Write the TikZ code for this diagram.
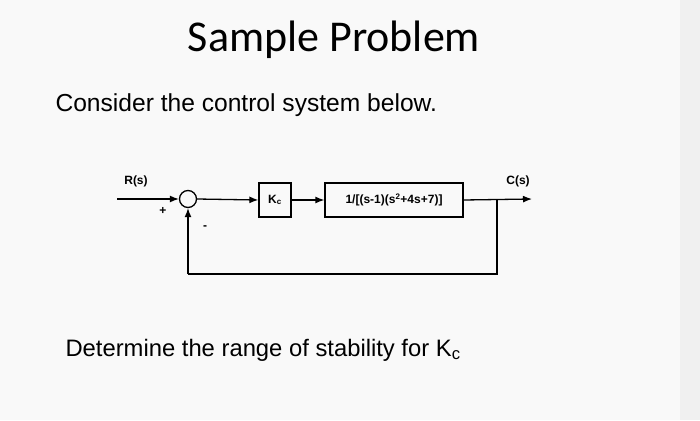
\documentclass[tikz,border=0pt]{standalone}
\usepackage{fontspec}
\setmainfont{Liberation Sans}
\newfontfamily\titlefont{Carlito}
\usetikzlibrary{arrows.meta}
\begin{document}
\begin{tikzpicture}[x=1pt,y=-1pt,
  blk/.style={draw,line width=1.3pt,minimum height=34pt,inner sep=2pt,font=\fontsize{12}{13}\selectfont\bfseries},
  sig/.style={line width=1.3pt,-{Latex[length=9pt,width=7pt]}},
  ln/.style={line width=1.3pt},
  lbl/.style={font=\fontsize{12}{13}\selectfont\bfseries}]
\fill[gray!12] (0,0) rectangle (700,420);
\fill[gray!5] (0,0) rectangle (680,420);
\node[font=\titlefont\fontsize{44}{46}\selectfont] (title) at (334,40) {Sample Problem};
\node[anchor=west,font=\fontsize{24.6}{26}\selectfont] (cons) at (52,105) {Consider the control system below.};
\node[anchor=west,font=\fontsize{23.8}{26}\selectfont] (det) at (62,350) {Determine the range of stability for K\textsubscript{c}};
\node[draw,circle,line width=1.3pt,minimum size=17pt,inner sep=0] (sum) at (188,199) {};
\node[blk,minimum width=32pt] (kc) at (275,200) {K\textsubscript{c}};
\node[blk,minimum width=138pt] (g) at (394,200) {1/[(s-1)(s\textsuperscript{2}+4s+7)]};
\coordinate (in) at (117,199);
\coordinate (out) at (532,199);
\coordinate (br) at (497,199);
\coordinate (bot) at (497,274);
\coordinate (botl) at (188,274);
\draw[sig] (in) -- (sum.west);
\draw[sig] (sum.east) -- (kc.west);
\draw[sig] (kc.east) -- (g.west);
\draw[sig] (g.east) -- (out);
\draw[ln] (br) -- (bot) -- (botl);
\draw[sig] (botl) -- (sum.south);
\node[lbl] (rs) at (136,181) {R(s)};
\node[lbl] (cs) at (518,181) {C(s)};
\node[lbl] (plus) at (163,211) {+};
\node[lbl] (minus) at (205,228) {-};
\end{tikzpicture}
\end{document}
